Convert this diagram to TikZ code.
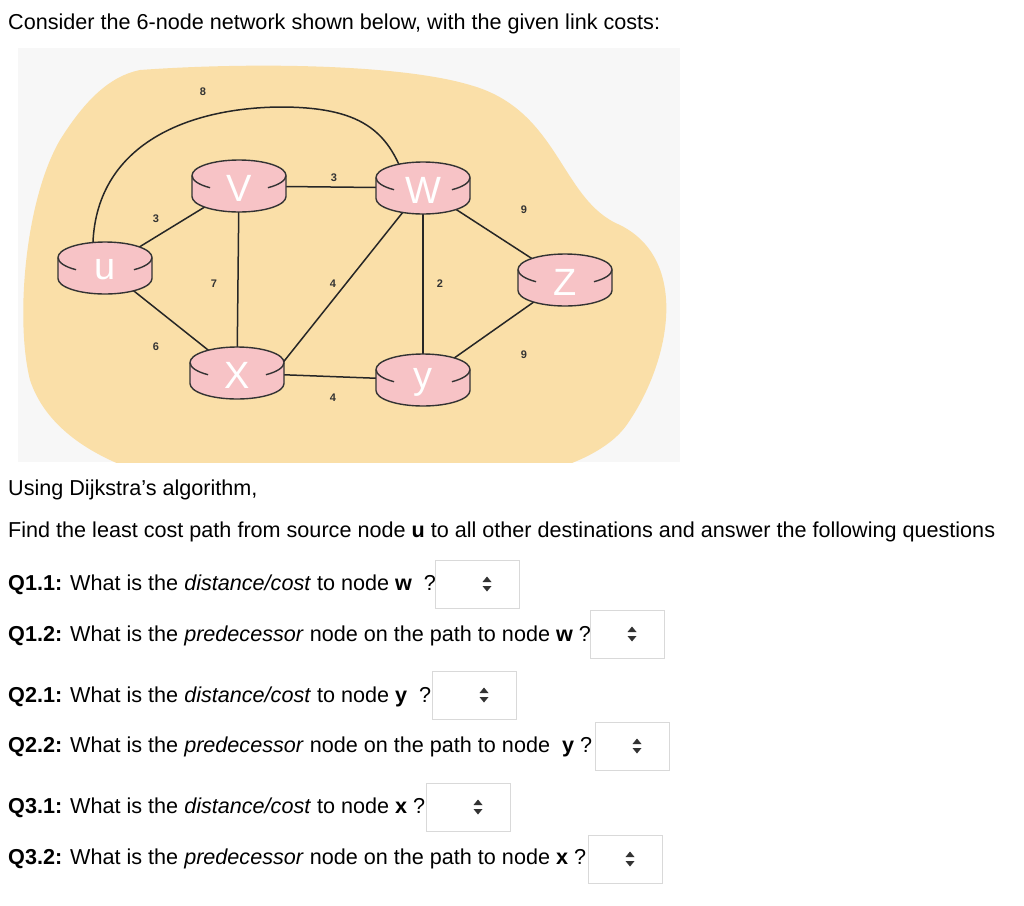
\documentclass[tikz,border=0pt]{standalone}
\usepackage{fontspec}
\setmainfont{Liberation Sans}
\usetikzlibrary{calc}
\begin{document}
\begin{tikzpicture}[x=1pt,y=-1pt,
  lbl/.style={font=\fontsize{11}{12}\selectfont\bfseries, text=black!80},
  qtxt/.style={anchor=west, font=\fontsize{21.6}{25}\selectfont, inner sep=0pt},
  selbox/.style={draw=black!15, fill=white, minimum width=84, minimum height=48, inner sep=0pt, line width=0.9pt},
  edge/.style={draw=black!85, line width=1.5pt},
  rline/.style={draw=black!80, line width=1.4pt},
  rt/.style={inner sep=0pt, minimum size=1pt}]
\definecolor{blob}{HTML}{FADFA8}
\definecolor{pink}{HTML}{F7C3C6}
\useasboundingbox (0,0) rectangle (1024,905);
\fill[white] (0,0) rectangle (1024,905);
\fill[black!3] (18,48) rectangle (680,462);
\begin{scope}
\clip (18,48) rectangle (680,462);
\fill[blob] (140,70) .. controls (250,62) and (400,64) .. (470,85)
  .. controls (560,110) and (560,200) .. (620,225)
  .. controls (690,260) and (670,360) .. (630,420)
  .. controls (600,470) and (500,490) .. (350,500)
  .. controls (200,500) and (60,470) .. (30,380)
  .. controls (15,320) and (25,200) .. (60,140)
  .. controls (85,100) and (110,76) .. (140,70) -- cycle;
\end{scope}
\node[qtxt] (title) at (8,24) {Consider the 6-node network shown below, with the given link costs:};
% router positions
\node[rt] (u) at (105,268) {};
\node[rt] (v) at (239,186) {};
\node[rt] (w) at (423,188) {};
\node[rt] (z) at (565,280) {};
\node[rt] (x) at (237,373) {};
\node[rt] (y) at (423,380) {};
\coordinate (xw1) at ($(x)+(44,-8)$);
\coordinate (xw2) at ($(w)+(-12,14)$);
\coordinate (uw1) at ($(u)+(-12,-10)$);
\coordinate (uw2) at ($(w)+(-18,-8)$);
% edges
\draw[edge] (u) -- (v);
\draw[edge] (u) -- (x);
\draw[edge] (v) -- (w);
\draw[edge] (v) -- (x);
\draw[edge] (xw1) -- (xw2);
\draw[edge] (w) -- (y);
\draw[edge] (x) -- (y);
\draw[edge] (w) -- (z);
\draw[edge] (y) -- (z);
\draw[edge] (uw1) .. controls (88,150) and (180,108) .. (280,107) .. controls (360,107) and (388,130) .. (uw2);
% routers
\foreach \n/\t in {u/u,v/V,w/W,z/Z,x/X,y/y}{
  \begin{scope}[shift={(\n)}]
    \fill[pink] (-47,-10.5) -- (-47,10.5) arc[start angle=180,end angle=0,x radius=47,y radius=15.5] -- (47,-10.5) arc[start angle=0,end angle=-180,x radius=47,y radius=15.5] -- cycle;
    \draw[rline] (-47,-10.5) -- (-47,10.5) arc[start angle=180,end angle=0,x radius=47,y radius=15.5] -- (47,-10.5) arc[start angle=0,end angle=-180,x radius=47,y radius=15.5];
    \draw[rline] (-47,-10.5) arc[start angle=180,end angle=128,x radius=47,y radius=15.5];
    \draw[rline] (47,-10.5) arc[start angle=0,end angle=52,x radius=47,y radius=15.5];
    \node[text=white, font=\fontsize{38}{38}\selectfont] at (0,2) {\t};
  \end{scope}}
% labels
\node[lbl] (l8) at (203,92) {8};
\node[lbl] (l3a) at (156,219) {3};
\node[lbl] (l3b) at (334,178) {3};
\node[lbl] (l9a) at (524,210) {9};
\node[lbl] (l7) at (214,284) {7};
\node[lbl] (l4a) at (333,284) {4};
\node[lbl] (l2) at (440,284) {2};
\node[lbl] (l6) at (156,347) {6};
\node[lbl] (l9b) at (524,355) {9};
\node[lbl] (l4b) at (333,398) {4};
% text
\node[qtxt] (t1) at (8,490) {Using Dijkstra's algorithm,};
\node[qtxt] (t2) at (8,532) {Find the least cost path from source node \textbf{u} to all other destinations and answer the following questions};
\node[qtxt] (q11) at (8,585) {\textbf{Q1.1:} What is the \textit{distance/cost} to node \textbf{w}~ ?};
\node[qtxt] (q12) at (8,636) {\textbf{Q1.2:} What is the \textit{predecessor} node on the path to node \textbf{w} ?};
\node[qtxt] (q21) at (8,697) {\textbf{Q2.1:} What is the \textit{distance/cost} to node \textbf{y}~ ?};
\node[qtxt] (q22) at (8,747) {\textbf{Q2.2:} What is the \textit{predecessor} node on the path to node~ \textbf{y} ?};
\node[qtxt] (q31) at (8,808) {\textbf{Q3.1:} What is the \textit{distance/cost} to node \textbf{x} ?};
\node[qtxt] (q32) at (8,859) {\textbf{Q3.2:} What is the \textit{predecessor} node on the path to node \textbf{x} ?};
\foreach \nm/\cx/\cy/\bw in {b11/477/584/84, b12/627/634/74, b21/474/695/84, b22/632/746/74, b31/468/807/84, b32/625/859/74}{
  \node[selbox, minimum width=\bw] (\nm) at (\cx,\cy) {};
  \fill[black!80] ($(\nm.center)+(\bw/2-32,-2)$) -- ++(-4.5,0) -- ++(4.5,-5.5) -- ++(4.5,5.5) -- cycle;
  \fill[black!80] ($(\nm.center)+(\bw/2-32,2)$) -- ++(-4.5,0) -- ++(4.5,5.5) -- ++(4.5,-5.5) -- cycle;
}
\end{tikzpicture}
\end{document}
